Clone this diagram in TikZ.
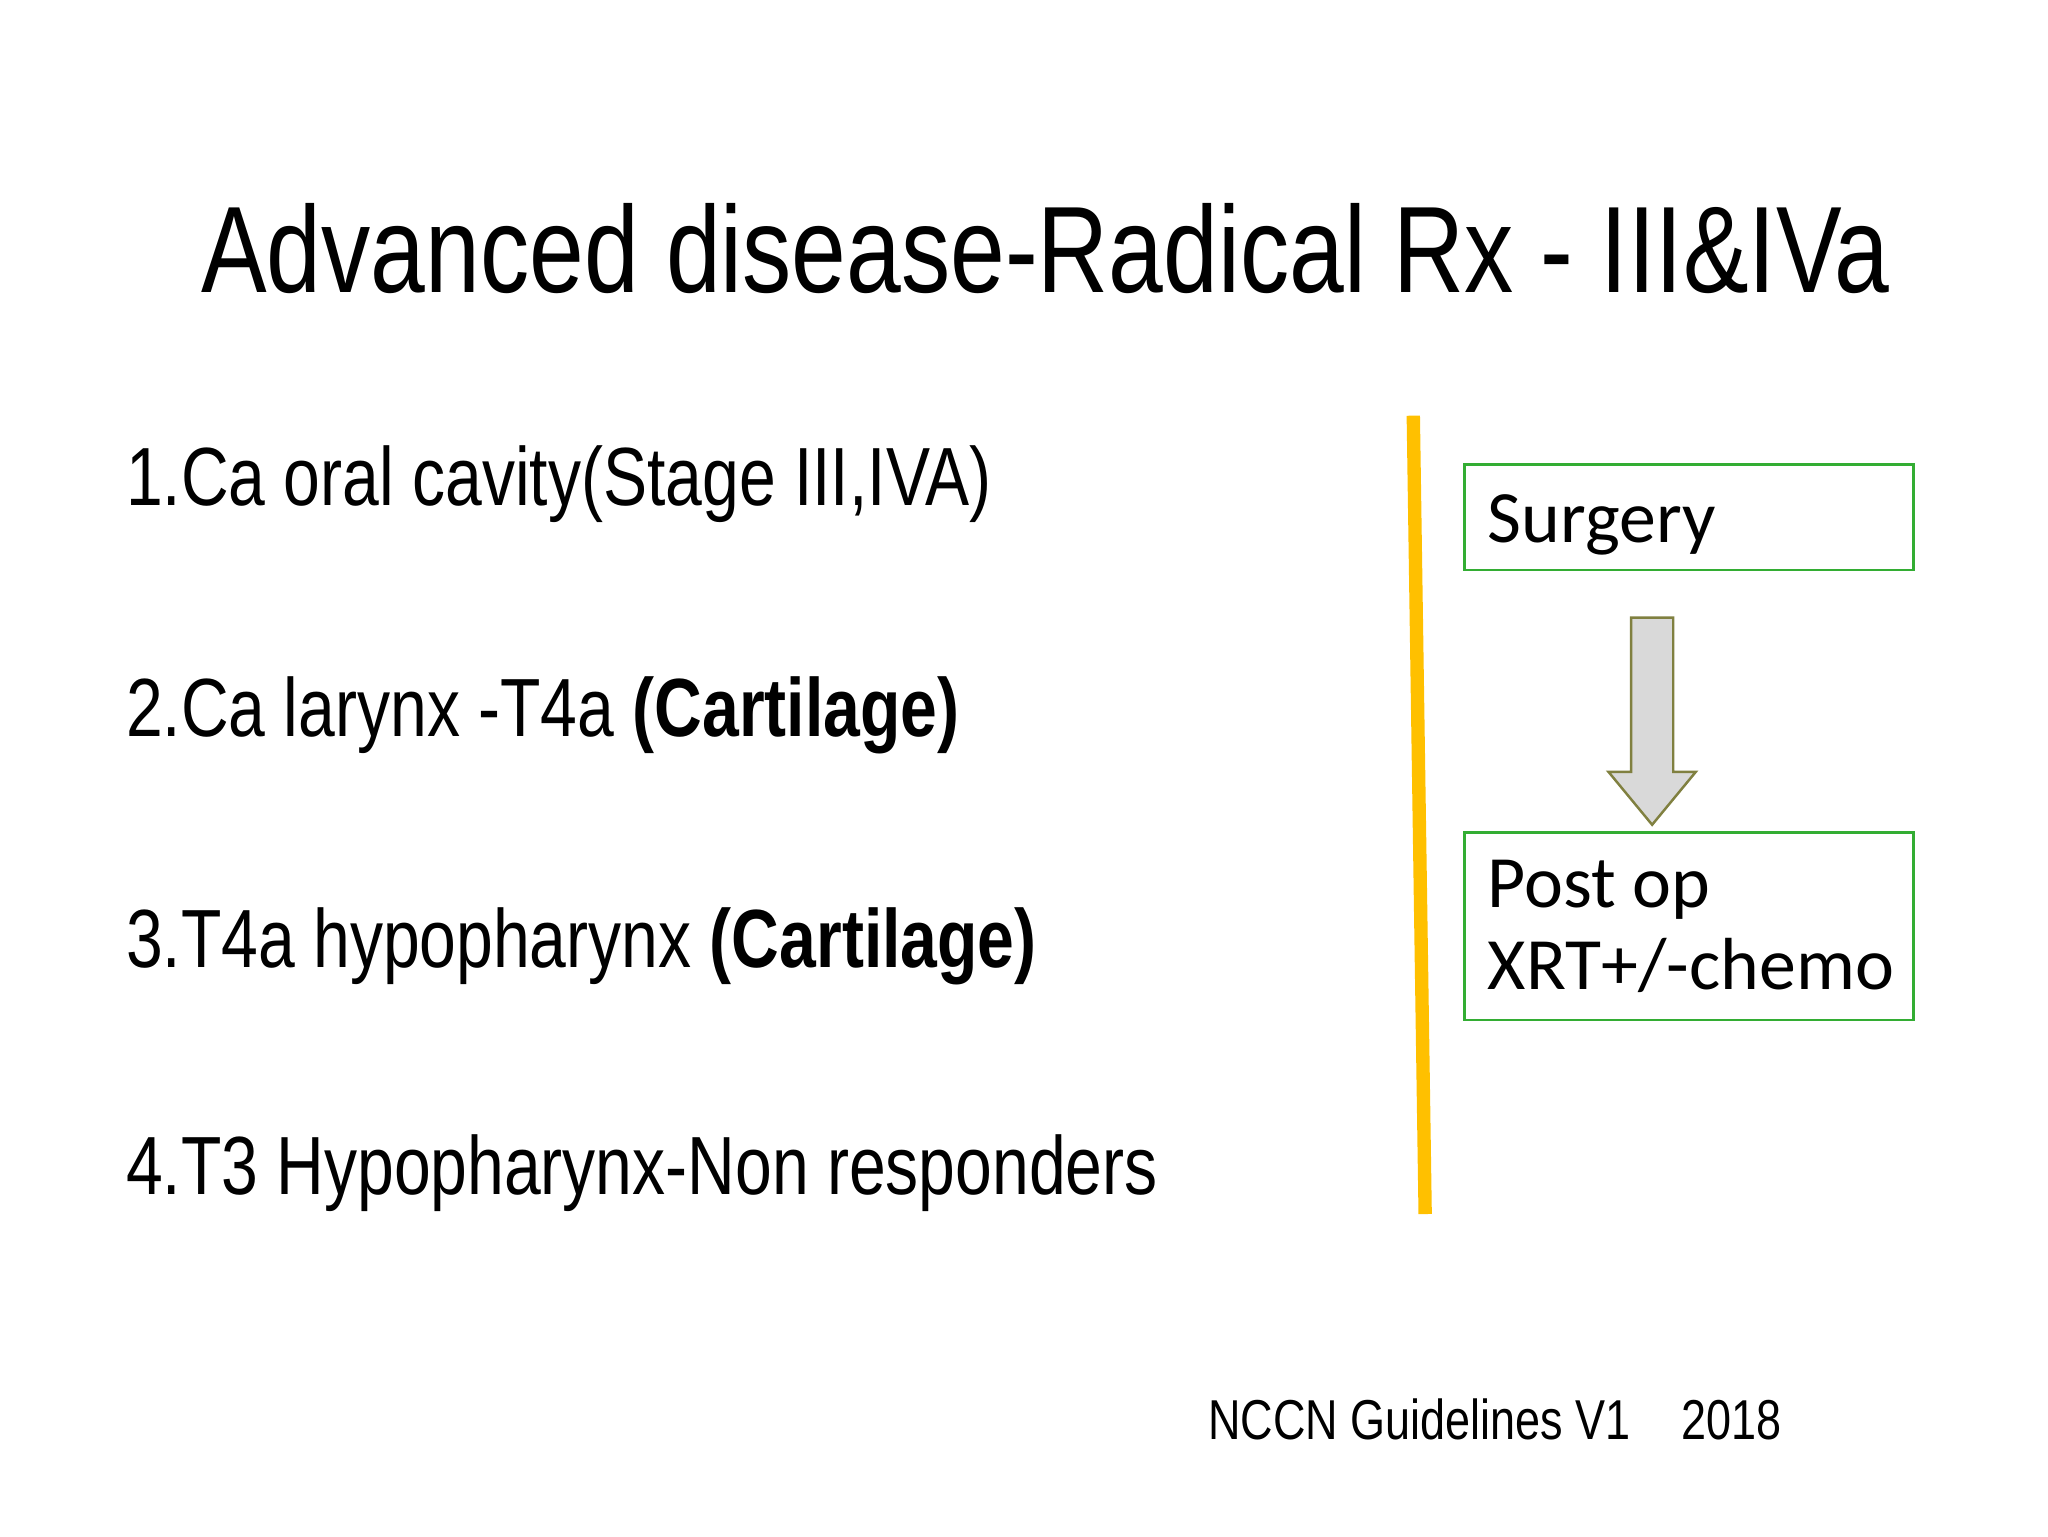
\documentclass[tikz,border=0pt]{standalone}
\usepackage{fontspec}
\setmainfont[FakeStretch=0.80]{Liberation Sans}
\newfontfamily\boxfont{Carlito}
\begin{document}
\begin{tikzpicture}[x=0.013196cm,y=-0.013196cm,
  txt/.style={anchor=base west,inner sep=0pt},
  gbox/.style={draw=green!60!black!80,line width=0.8pt}]
\useasboundingbox (0,0) rectangle (1552,1164);
\node[txt,font=\fontsize{35}{40}\selectfont] (title) at (152,222) {Advanced disease-Radical Rx - III\&IVa};
\node[txt,font=\fontsize{23.5}{28}\selectfont] (l1) at (95,383) {1.Ca oral cavity(Stage III,IVA)};
\node[txt,font=\fontsize{23.5}{28}\selectfont] (l2) at (95,558) {2.Ca larynx -T4a \textbf{(Cartilage)}};
\node[txt,font=\fontsize{23.5}{28}\selectfont] (l3) at (95,733) {3.T4a hypopharynx \textbf{(Cartilage)}};
\node[txt,font=\fontsize{23.5}{28}\selectfont] (l4) at (95,905) {4.T3 Hypopharynx-Non responders};
\node[txt,font=\fontsize{16}{20}\selectfont] (foot) at (915,1091) {NCCN Guidelines V1\hspace{0.9em}2018};
\draw[line width=3.8pt,color={rgb,255:red,255;green,192;blue,0}] (1071,315) -- (1080,920);
\draw[gbox] (1110,352) rectangle (1450,432);
\draw[gbox] (1110,631) rectangle (1450,773);
\node[txt,font=\boxfont\fontsize{21}{25}\selectfont] (s) at (1127,411) {Surgery};
\node[txt,font=\boxfont\fontsize{21}{25}\selectfont] (p1) at (1127,688) {Post op};
\node[txt,font=\boxfont\fontsize{21}{25}\selectfont] (p2) at (1127,750) {XRT+/-chemo};
\draw[fill={rgb,255:red,217;green,217;blue,217},draw={rgb,255:red,128;green,128;blue,64},line width=0.7pt]
  (1236,468) -- (1268,468) -- (1268,585) -- (1285,585) -- (1252,625) -- (1219,585) -- (1236,585) -- cycle;
\end{tikzpicture}
\end{document}
